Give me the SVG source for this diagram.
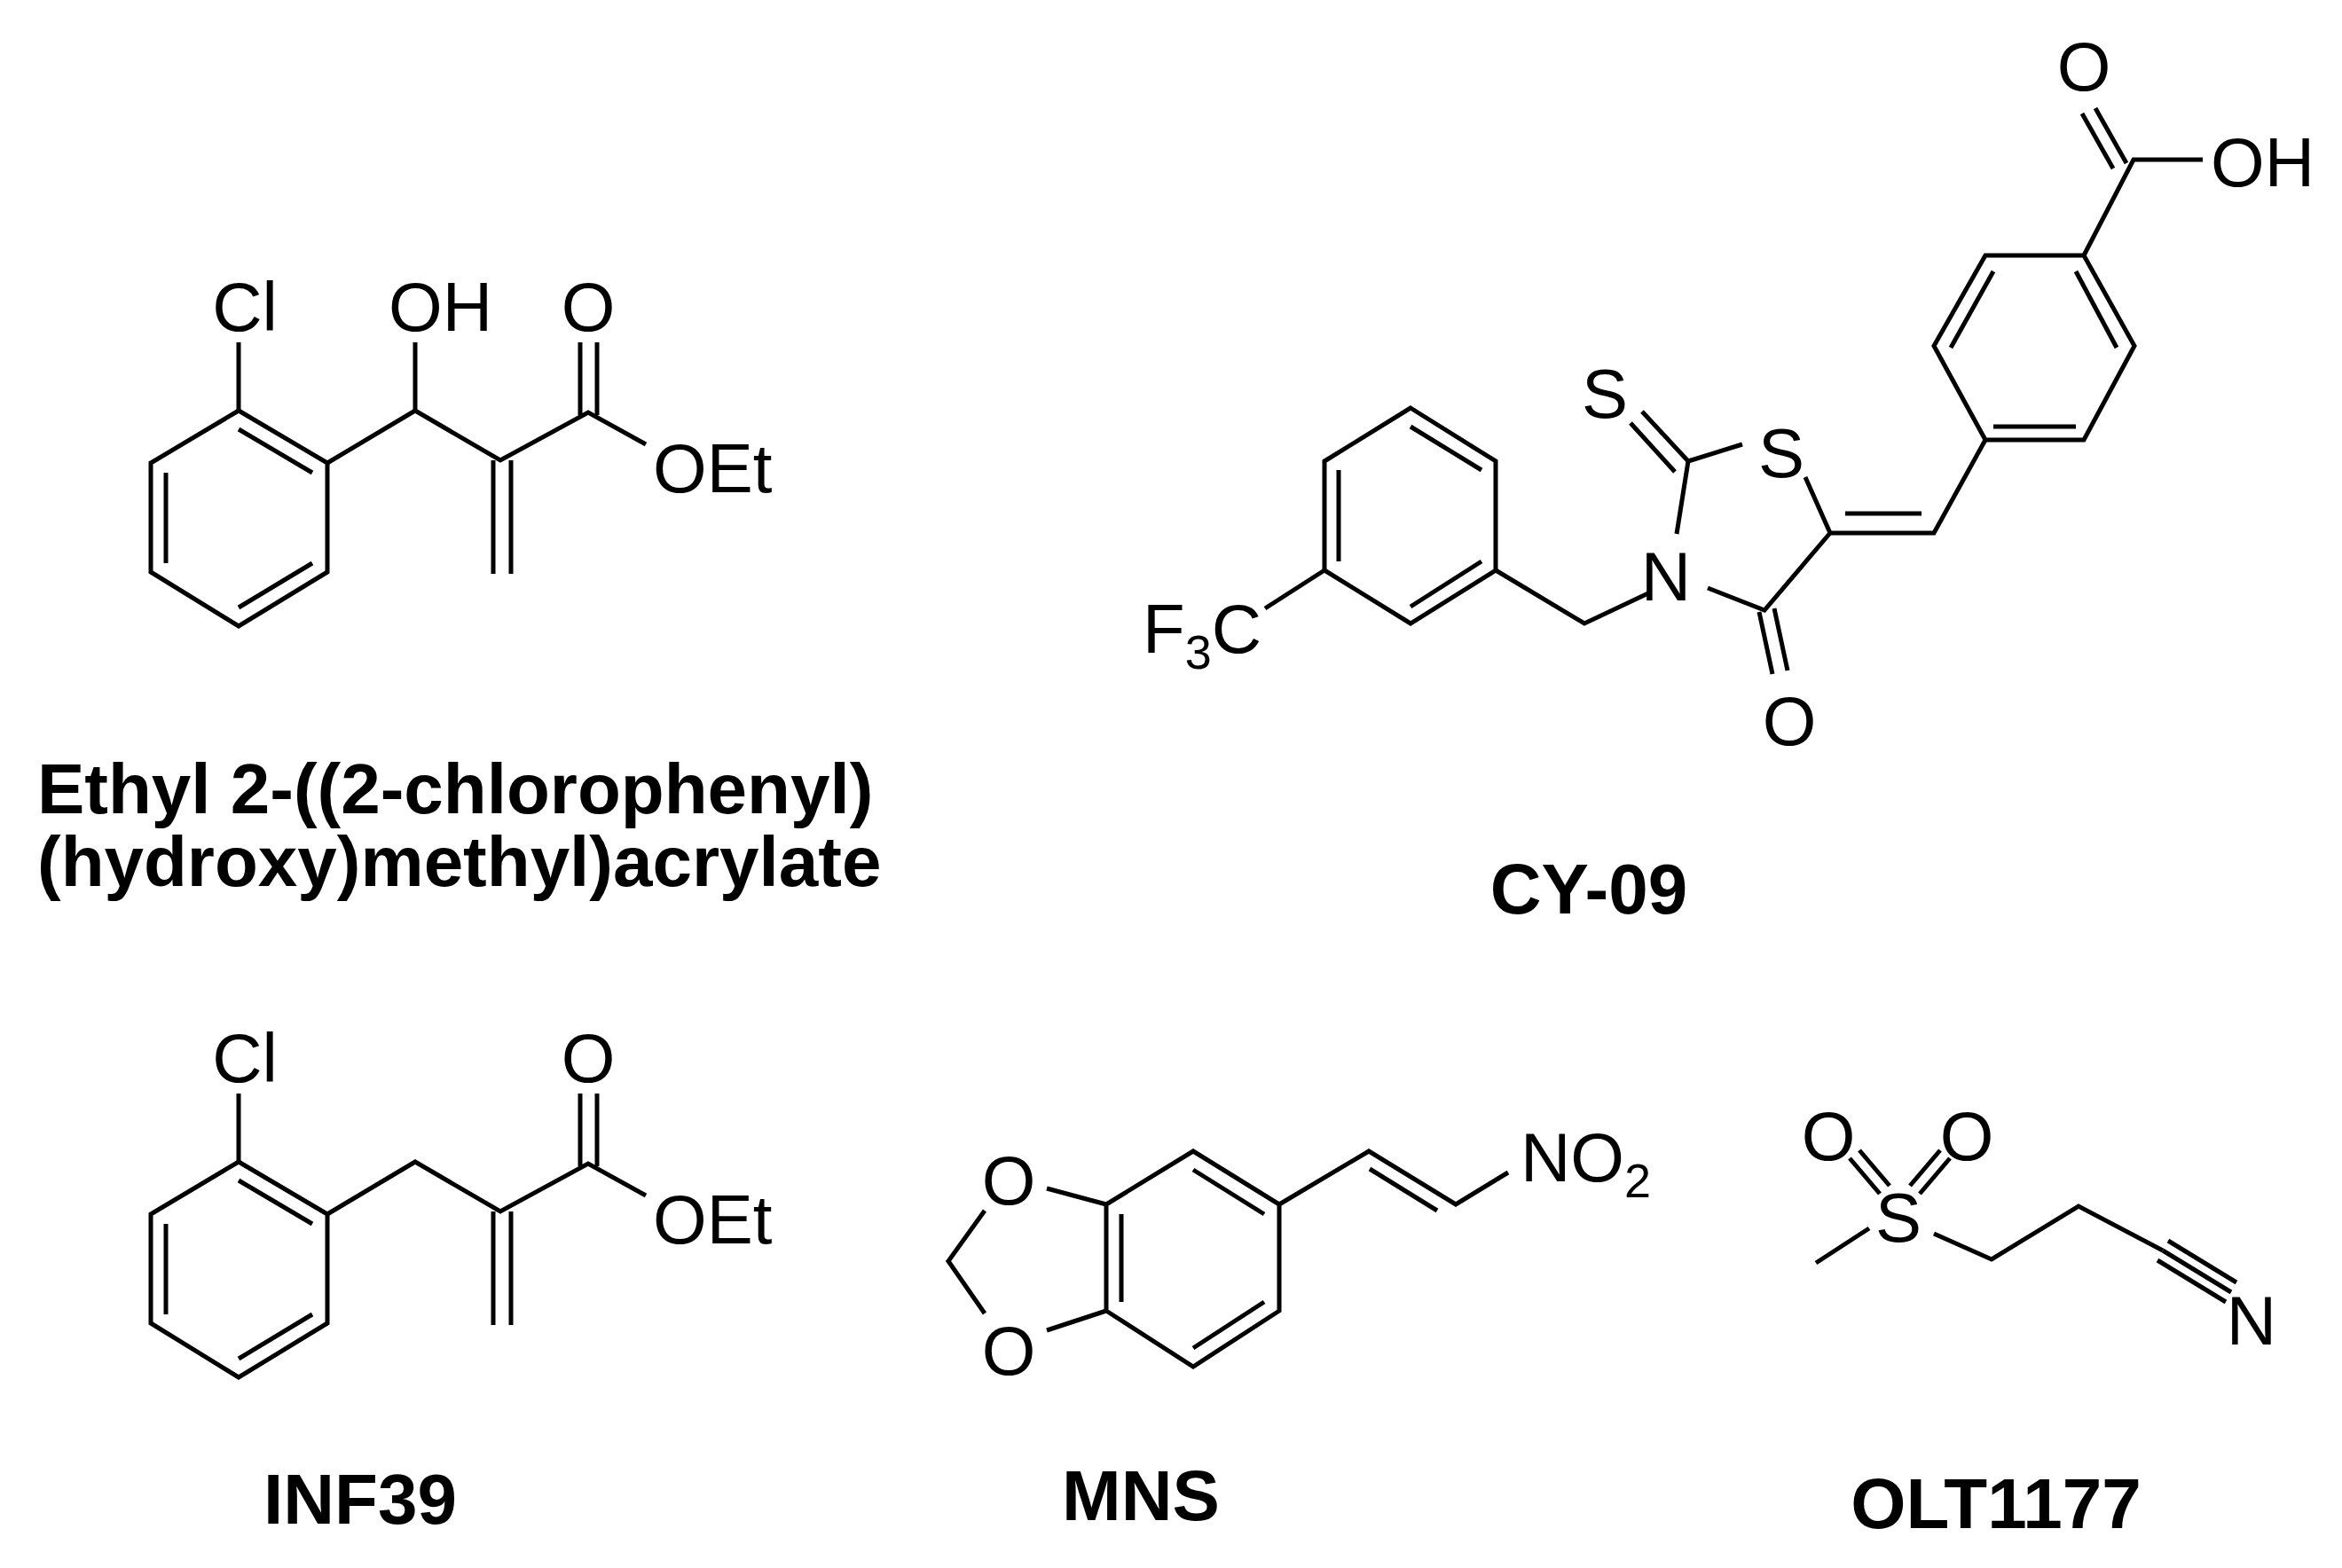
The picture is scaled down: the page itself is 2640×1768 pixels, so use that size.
<svg xmlns="http://www.w3.org/2000/svg" width="2640" height="1768" viewBox="0 0 2640 1768">
<style>
line,polyline,polygon{stroke:#000;stroke-width:5;fill:none;stroke-linejoin:miter;stroke-linecap:butt}
text{font-family:"Liberation Sans",Arial,sans-serif;font-size:78px;fill:#000}
.m{text-anchor:middle}
.t{font-weight:bold;font-size:80px}
.s{font-size:54px}
</style>
<rect width="2640" height="1768" fill="#fff"/>
<g id="mol1">
<polygon points="269,463 369,522 369,645 269,706 170,645 170,522"/>
<line x1="269" y1="484" x2="352" y2="533"/><line x1="187" y1="533" x2="187" y2="635"/><line x1="269" y1="685" x2="352" y2="635"/>
<line x1="269" y1="386" x2="269" y2="463"/>
<polyline points="369,522 468,463 564,519 663,465 728,501"/>
<line x1="468" y1="463" x2="468" y2="386"/>
<line x1="556" y1="519" x2="556" y2="647"/><line x1="576" y1="519" x2="576" y2="647"/>
<line x1="654" y1="468" x2="654" y2="386"/><line x1="673" y1="468" x2="673" y2="386"/>
<text x="276" y="373" class="m">Cl</text>
<text x="438" y="373">OH</text>
<text x="663" y="373" class="m">O</text>
<text x="736" y="555">OEt</text>
<text x="42" y="917" class="t">Ethyl 2-((2-chlorophenyl)</text>
<text x="42" y="999" class="t">(hydroxy)methyl)acrylate</text>
</g>
<g id="cy09">
<polygon points="2349,288 2238,288 2180,390 2238,496 2349,496 2406,390"/>
<line x1="2247" y1="306" x2="2199" y2="392"/><line x1="2340" y1="306" x2="2386" y2="392"/><line x1="2247" y1="481" x2="2340" y2="481"/>
<polyline points="2349,288 2405,180 2483,180"/>
<line x1="2397" y1="184" x2="2362" y2="122"/><line x1="2382" y1="190" x2="2347" y2="128"/>
<text x="2349" y="102" class="m">O</text>
<text x="2492" y="210">OH</text>
<polyline points="2238,496 2180,601 2063,601 2035,538"/>
<line x1="2080" y1="579" x2="2166" y2="579"/>
<polyline points="1964,501 1903,520 1890,602"/>
<polyline points="1925,663 1989,688 2063,601"/>
<line x1="1903" y1="520" x2="1851" y2="464"/><line x1="1888" y1="532" x2="1838" y2="477"/>
<line x1="1983" y1="690" x2="1998" y2="760"/><line x1="2000" y1="686" x2="2015" y2="756"/>
<text x="2008" y="538" class="m">S</text>
<text x="1809" y="471" class="m">S</text>
<text x="1878" y="677" class="m">N</text>
<text x="2017" y="840" class="m">O</text>
<polyline points="1860,668 1786,703 1686,643"/>
<polygon points="1590,460 1686,520 1686,643 1590,703 1493,643 1493,520"/>
<line x1="1590" y1="481" x2="1670" y2="530"/><line x1="1509" y1="530" x2="1509" y2="633"/><line x1="1590" y1="684" x2="1670" y2="633"/>
<line x1="1493" y1="643" x2="1426" y2="686"/>
<text x="1288" y="736">F<tspan class="s" dy="18">3</tspan><tspan dy="-18">C</tspan></text>
<text x="1791" y="1030" class="m t">CY-09</text>
</g>
<g id="inf39" transform="translate(0,847)">
<polygon points="269,463 369,522 369,645 269,706 170,645 170,522"/>
<line x1="269" y1="484" x2="352" y2="533"/><line x1="187" y1="533" x2="187" y2="635"/><line x1="269" y1="685" x2="352" y2="635"/>
<line x1="269" y1="386" x2="269" y2="463"/>
<polyline points="369,522 468,463 564,519 663,465 728,501"/>
<line x1="556" y1="519" x2="556" y2="647"/><line x1="576" y1="519" x2="576" y2="647"/>
<line x1="654" y1="468" x2="654" y2="386"/><line x1="673" y1="468" x2="673" y2="386"/>
<text x="276" y="373" class="m">Cl</text>
<text x="663" y="373" class="m">O</text>
<text x="736" y="555">OEt</text>
</g>
<text x="406" y="1718" class="m t">INF39</text>
<g id="mns">
<polygon points="1345,1298 1442,1358 1442,1478 1345,1541 1247,1478 1247,1358"/>
<line x1="1345" y1="1319" x2="1425" y2="1369"/><line x1="1264" y1="1369" x2="1264" y2="1468"/><line x1="1345" y1="1520" x2="1425" y2="1468"/>
<line x1="1247" y1="1358" x2="1180" y2="1340"/>
<polyline points="1110,1365 1069,1422 1110,1481"/>
<line x1="1247" y1="1478" x2="1180" y2="1500"/>
<text x="1137" y="1358" class="m">O</text>
<text x="1137" y="1550" class="m">O</text>
<polyline points="1442,1358 1543,1298 1641,1358 1700,1322"/>
<line x1="1544" y1="1318" x2="1620" y2="1365"/>
<text x="1714" y="1332">NO<tspan class="s" dy="18">2</tspan></text>
<text x="1286" y="1714" class="m t">MNS</text>
</g>
<g id="olt1177">
<text x="2061" y="1308" class="m">O</text>
<text x="2217" y="1308" class="m">O</text>
<text x="2140" y="1400" class="m">S</text>
<line x1="2085" y1="1306" x2="2119" y2="1346"/><line x1="2096" y1="1297" x2="2130" y2="1337"/>
<line x1="2198" y1="1306" x2="2164" y2="1346"/><line x1="2187" y1="1297" x2="2153" y2="1337"/>
<line x1="2047" y1="1424" x2="2107" y2="1385"/>
<polyline points="2180,1391 2245,1420 2343,1360 2438,1410"/>
<line x1="2438" y1="1410" x2="2515" y2="1457"/>
<line x1="2444" y1="1399" x2="2521" y2="1446"/>
<line x1="2432" y1="1421" x2="2509" y2="1468"/>
<text x="2538" y="1516" class="m">N</text>
<text x="2250" y="1723" class="m t">OLT1177</text>
</g>
</svg>
